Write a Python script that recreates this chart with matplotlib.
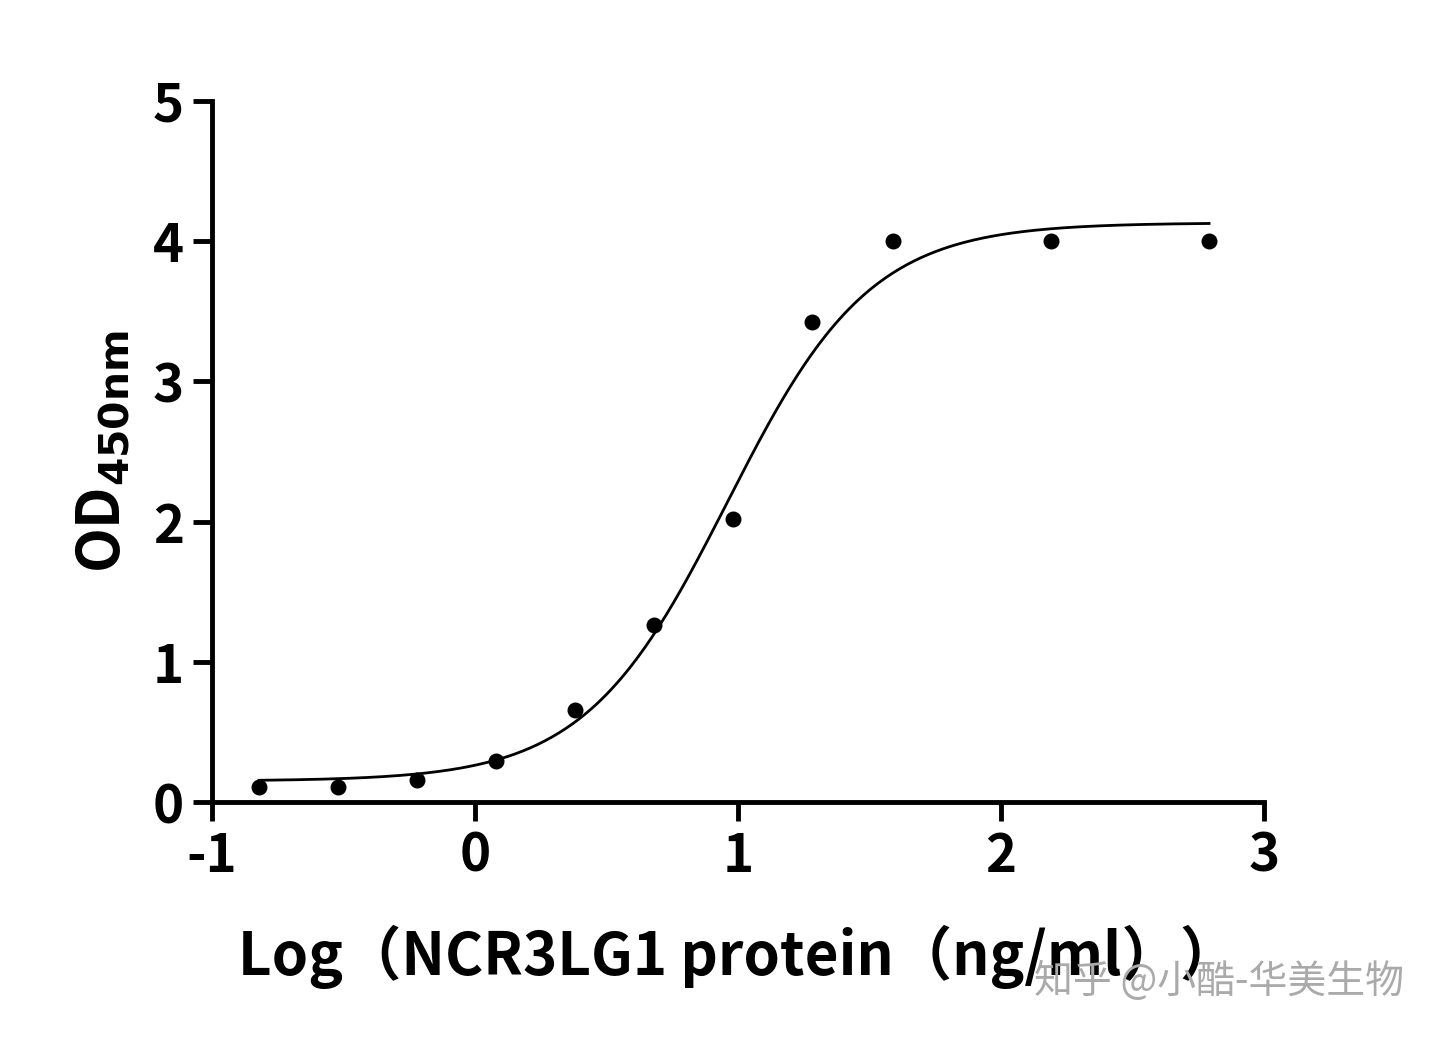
import numpy as np
import matplotlib
matplotlib.use('Agg')
from matplotlib import pyplot as plt

plt.rcParams['font.family'] = ['Noto Sans CJK SC', 'DejaVu Sans']
plt.rcParams['axes.unicode_minus'] = False

# measured points
log_conc = [-0.82, -0.52, -0.22, 0.08, 0.38, 0.68, 0.98, 1.28, 1.59, 2.19, 2.79]
od450 = [0.11, 0.11, 0.16, 0.29, 0.66, 1.26, 2.02, 3.42, 4.00, 4.00, 4.00]

# 4PL fit parameters
bottom, top, log_ec50, hill = 0.15, 4.13, 0.96, 1.6

fig = plt.figure(figsize=(14.4, 10.39), dpi=100)
ax = fig.add_axes([0.147, 0.228, 0.731, 0.675])

xs = np.linspace(min(log_conc), max(log_conc), 400)
ys = bottom + (top - bottom) / (1 + 10 ** ((log_ec50 - xs) * hill))
ax.plot(xs, ys, color='black', lw=2)
ax.scatter(log_conc, od450, s=110, color='black', zorder=3)

ax.set_xlim(-1, 3)
ax.set_ylim(0, 5)
ax.set_xticks([-1, 0, 1, 2, 3])
ax.set_yticks([0, 1, 2, 3, 4, 5])
for s in ['top', 'right']:
    ax.spines[s].set_visible(False)
for s in ['left', 'bottom']:
    ax.spines[s].set_linewidth(3.5)
ax.tick_params(direction='out', length=14, width=3.5, labelsize=38, pad=6)
for lab in ax.get_xticklabels() + ax.get_yticklabels():
    lab.set_fontweight('heavy')

ax.set_xlabel('Log（NCR3LG1 protein（ng/ml））', fontsize=42, fontweight='heavy', labelpad=30)
ax.set_ylabel(r'OD$_{\mathbf{450nm}}$', fontsize=42, fontweight='heavy', labelpad=14)

fig.text(0.975, 0.055, '知乎 @小酷-华美生物', fontsize=28, color='#aaaaaa', ha='right', va='center')

fig.savefig('out.png')
